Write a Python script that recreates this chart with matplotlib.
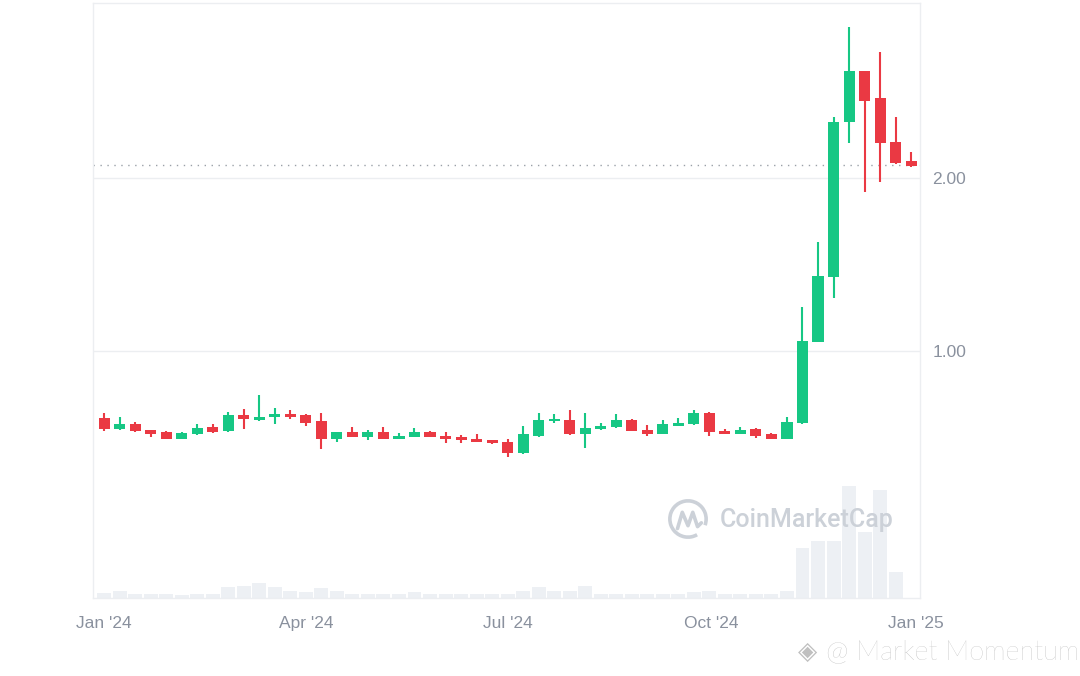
import numpy as np
import pandas as pd
import matplotlib
matplotlib.use('Agg')
import matplotlib.pyplot as plt
from matplotlib.patches import Arc

# weekly candles, Jan 2024 - Dec 2024
dates = pd.date_range('2024-01-01', periods=53, freq='7D')

opens = [0.614, 0.549, 0.576, 0.543, 0.530, 0.493, 0.520, 0.559, 0.538, 0.632,
         0.601, 0.617, 0.634, 0.632, 0.594, 0.490, 0.530, 0.505, 0.530, 0.493,
         0.503, 0.530, 0.509, 0.501, 0.491, 0.484, 0.472, 0.409, 0.510, 0.595,
         0.601, 0.520, 0.549, 0.559, 0.601, 0.543, 0.520, 0.568, 0.578, 0.640,
         0.538, 0.520, 0.547, 0.518, 0.493, 0.582, 1.054, 1.430, 2.322, 2.618,
         2.461, 2.206, 2.097]
highs = [0.640, 0.620, 0.591, 0.545, 0.535, 0.534, 0.576, 0.576, 0.647, 0.665,
         0.746, 0.669, 0.659, 0.634, 0.640, 0.532, 0.562, 0.543, 0.562, 0.528,
         0.557, 0.539, 0.530, 0.514, 0.518, 0.486, 0.491, 0.566, 0.640, 0.634,
         0.659, 0.640, 0.586, 0.634, 0.605, 0.572, 0.601, 0.611, 0.659, 0.649,
         0.547, 0.562, 0.557, 0.528, 0.620, 1.256, 1.628, 2.351, 2.871, 2.620,
         2.730, 2.354, 2.150]
lows = [0.539, 0.545, 0.530, 0.501, 0.490, 0.490, 0.515, 0.528, 0.530, 0.547,
        0.598, 0.578, 0.605, 0.568, 0.434, 0.474, 0.503, 0.486, 0.490, 0.490,
        0.500, 0.503, 0.466, 0.466, 0.472, 0.464, 0.389, 0.405, 0.505, 0.582,
        0.515, 0.438, 0.545, 0.555, 0.535, 0.510, 0.518, 0.565, 0.575, 0.510,
        0.518, 0.518, 0.495, 0.490, 0.490, 0.578, 1.050, 1.308, 2.200, 1.917,
        1.975, 2.080, 2.065]
closes = [0.547, 0.578, 0.539, 0.520, 0.493, 0.528, 0.557, 0.534, 0.630, 0.605,
          0.620, 0.634, 0.620, 0.586, 0.493, 0.530, 0.505, 0.530, 0.493, 0.510,
          0.530, 0.505, 0.493, 0.484, 0.474, 0.466, 0.409, 0.518, 0.601, 0.607,
          0.520, 0.557, 0.566, 0.601, 0.538, 0.520, 0.576, 0.586, 0.640, 0.530,
          0.520, 0.543, 0.510, 0.493, 0.591, 1.060, 1.434, 2.325, 2.618, 2.447,
          2.200, 2.088, 2.071]
# volume, millions USD
volumes = [15, 21, 12, 12, 12, 9, 12, 12, 33, 36,
           45, 33, 21, 18, 30, 21, 12, 12, 12, 12,
           18, 12, 12, 12, 12, 12, 12, 21, 33, 21,
           21, 36, 12, 12, 12, 12, 12, 12, 18, 21,
           12, 12, 12, 12, 21, 150, 171, 171, 336, 198,
           324, 78, 0]
last_price = 2.075

tick_dates = pd.to_datetime(['2024-01-01', '2024-04-01', '2024-07-01', '2024-10-01', '2025-01-01'])
tick_labels = ["Jan '24", "Apr '24", "Jul '24", "Oct '24", "Jan '25"]

green = '#16c784'
red = '#ea3943'
grey_txt = '#8a919e'
frame = '#eceef1'

fig = plt.figure(figsize=(10.8, 6.76), dpi=100)
ax = fig.add_axes([93 / 1080, 1 - 598 / 676, 827 / 1080, 595 / 676])
ax2 = ax.twinx()
ax.set_zorder(ax2.get_zorder() + 1)
ax.patch.set_visible(False)

# volume bars
ax2.bar(dates, volumes, width=6.3, color='#edf0f4', zorder=1)
ax2.set_ylim(0, 1785)
ax2.set_yticks([])
for s in ax2.spines.values():
    s.set_visible(False)

o = np.array(opens)
h = np.array(highs)
l = np.array(lows)
c = np.array(closes)
cols = [green if c[i] >= o[i] else red for i in range(len(o))]
body_low = np.minimum(o, c)
body_h = np.maximum(np.abs(c - o), 0.012)

ax.vlines(dates, l, h, colors=cols, linewidth=1.5, zorder=3)
ax.bar(dates, body_h, bottom=body_low, width=5.0, color=cols, zorder=4)

ax.axhline(1.0, color=frame, linewidth=1, zorder=1)
ax.axhline(2.0, color=frame, linewidth=1, zorder=1)
ax.axhline(last_price, color='#9aa0a8', linewidth=1, linestyle=(0, (1, 4)), zorder=2)

ax.set_ylim(-0.428, 3.012)
ax.set_xlim(pd.Timestamp('2023-12-27'), pd.Timestamp('2025-01-03'))

ax.yaxis.tick_right()
ax.set_yticks([1.0, 2.0])
ax.set_yticklabels(['1.00', '2.00'])
ax.set_xticks(tick_dates)
ax.set_xticklabels(tick_labels)
ax.tick_params(axis='both', length=0, colors=grey_txt, labelsize=12.5)
ax.tick_params(axis='y', pad=9)
ax.tick_params(axis='x', pad=13)
for lab in ax.get_xticklabels() + ax.get_yticklabels():
    lab.set_family('Liberation Sans')

for s in ax.spines.values():
    s.set_color(frame)
    s.set_linewidth(1)

# CoinMarketCap watermark
fig.text(720 / 1080, 1 - 520 / 676, 'CoinMarketCap', family='Roboto', weight='medium',
         fontsize=18, color='#ccd1d8', va='center', ha='left', zorder=5)
lax = fig.add_axes([667 / 1080, 1 - 540 / 676, 42 / 1080, 42 / 676])
lax.set_xlim(-1.1, 1.1)
lax.set_ylim(-1.1, 1.1)
lax.set_aspect('equal')
lax.axis('off')
lax.add_patch(Arc((0, 0), 1.9, 1.9, theta1=-20, theta2=300, color='#ccd1d8', linewidth=2.6))
lax.plot([-0.55, -0.3, 0.0, 0.25, 0.5, 0.7], [-0.5, 0.35, -0.35, 0.35, -0.4, -0.2],
         color='#ccd1d8', linewidth=2.6, solid_capstyle='round')

# bottom-right watermark
fig.text(808 / 1080, 1 - 652 / 676, '\u25c8', fontsize=18, color='#c0c0c0',
         va='center', ha='center', family='DejaVu Sans')
fig.text(826 / 1080, 1 - 652 / 676, '@ Market Momentum', fontsize=19.5, color='#b2b2b2',
         va='center', ha='left', family='Lato', weight='light')

fig.savefig('out.png', dpi=100)
